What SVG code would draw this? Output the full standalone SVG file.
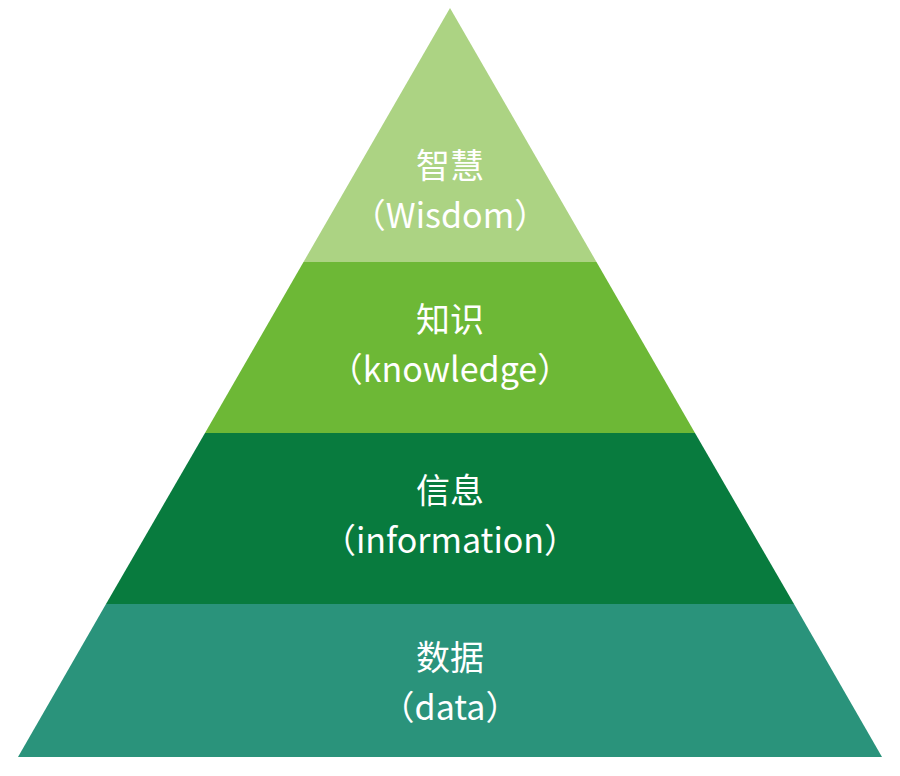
<svg xmlns="http://www.w3.org/2000/svg" width="900" height="776" viewBox="0 0 900 776">
<style>
text{fill:#fff;font-family:"Noto Sans CJK SC","Noto Sans",sans-serif;font-size:34px;text-anchor:middle}
</style>
<rect width="900" height="776" fill="#fff"/>
<g id="wisdom"><polygon points="450,8 596.5,262 303.5,262" fill="#acd383"/><text x="450" y="178">智慧</text><text x="450" y="228">（Wisdom）</text></g>
<g id="knowledge"><polygon points="303.5,262 596.5,262 695,433 205,433" fill="#6db836"/><text x="450" y="332">知识</text><text x="450" y="382">（knowledge）</text></g>
<g id="information"><polygon points="205,433 695,433 794,604 106,604" fill="#087b3e"/><text x="450" y="503">信息</text><text x="450" y="553">（information）</text></g>
<g id="data"><polygon points="106,604 794,604 882,757 18,757" fill="#2a937b"/><text x="450" y="670">数据</text><text x="450" y="720">（data）</text></g>
<g id="connectors"/>
</svg>
